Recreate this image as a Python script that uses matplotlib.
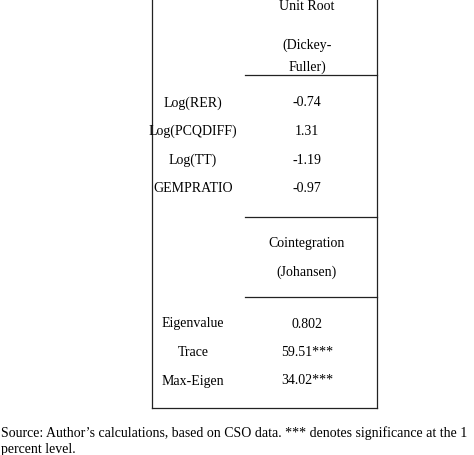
import matplotlib
matplotlib.use("Agg")
import matplotlib.pyplot as plt

variables = ["Log(RER)", "Log(PCQDIFF)", "Log(TT)", "GEMPRATIO"]
adf_values = ["-0.74", "1.31", "-1.19", "-0.97"]
coint_stats = ["Eigenvalue", "Trace", "Max-Eigen"]
coint_values = ["0.802", "59.51***", "34.02***"]
header1 = ["Unit Root", "(Dickey-", "Fuller)"]
header2 = ["Cointegration", "(Johansen)"]
source = ["Source: Author\u2019s calculations, based on CSO data. *** denotes significance at the 1",
          "percent level."]

W, H = 474, 455
fig = plt.figure(figsize=(W/100, H/100), dpi=100)
ax = fig.add_axes([0, 0, 1, 1])
ax.set_xlim(0, W); ax.set_ylim(H, 0); ax.axis("off")
plt.rcParams['font.family'] = ['Liberation Serif']
fs = 10
lc = "#222222"
ax.plot([152, 152], [0, 408], color=lc, lw=0.9)
ax.plot([377, 377], [0, 408], color=lc, lw=0.9)
ax.plot([152, 377], [408, 408], color=lc, lw=0.9)
for y in [75, 217, 297]:
    ax.plot([245, 377], [y, y], color=lc, lw=0.9)

cx = 307
for t, y in zip(header1, [7, 45, 67]):
    ax.text(cx, y, t, ha="center", va="center", fontsize=fs)
for i, (v, val) in enumerate(zip(variables, adf_values)):
    y = 103 + i * 28.5
    ax.text(193, y, v, ha="center", va="center", fontsize=fs)
    ax.text(cx, y, val, ha="center", va="center", fontsize=fs)
for t, y in zip(header2, [244, 272]):
    ax.text(cx, y, t, ha="center", va="center", fontsize=fs)
for i, (s, val) in enumerate(zip(coint_stats, coint_values)):
    y = 324 + i * 28.5
    ax.text(193, y, s, ha="center", va="center", fontsize=fs)
    ax.text(cx, y, val, ha="center", va="center", fontsize=fs)
for t, y in zip(source, [433, 450]):
    ax.text(1, y, t, ha="left", va="center", fontsize=fs)
fig.savefig("out.png", dpi=100)
